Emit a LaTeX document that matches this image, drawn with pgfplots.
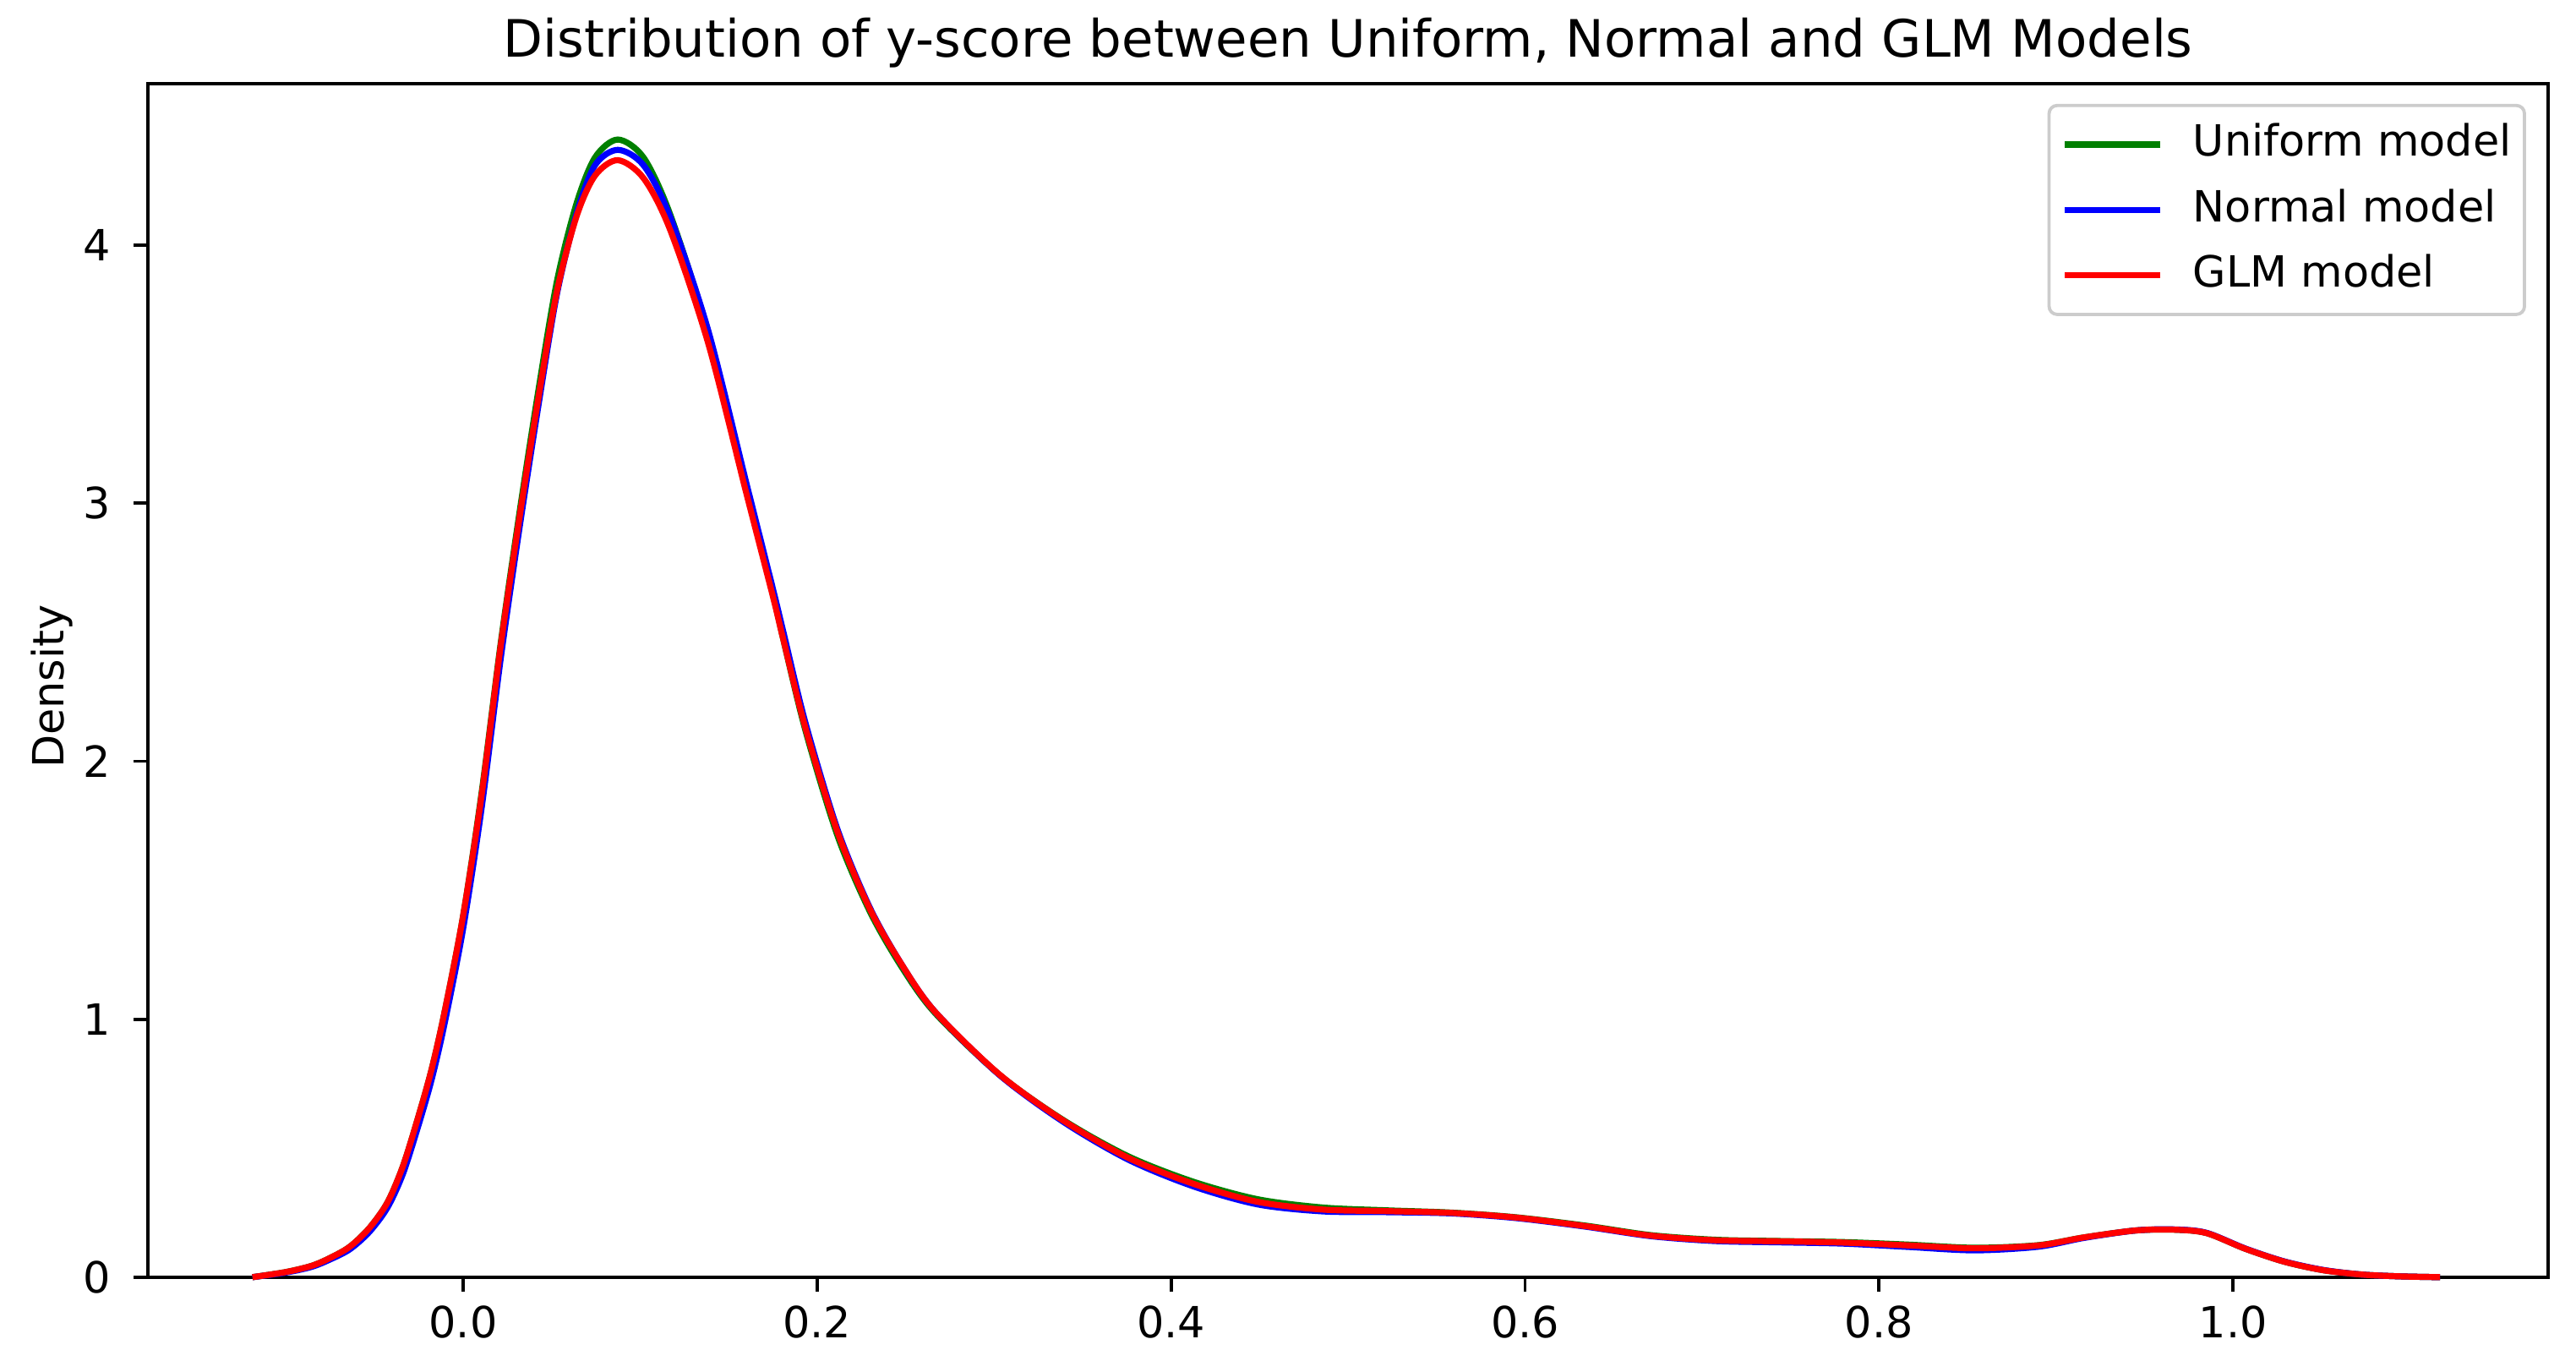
\documentclass[border=0pt]{standalone}
\usepackage{pgfplots}
\pgfplotsset{compat=1.18}
\usepackage{pgfplotstable}
\usepackage{fontspec}
\setmainfont{DejaVu Sans}

\pgfplotstableread{
x y
-0.119 0.0
-0.100 0.02
-0.0855 0.044
-0.075 0.075
-0.064 0.118
-0.053 0.19
-0.0427 0.29
-0.034 0.43
-0.0258 0.61
-0.018 0.80
-0.0107 1.02
0.0 1.40
0.0105 1.87
0.0213 2.45
0.032 2.95
0.0426 3.41
0.053 3.82
0.064 4.11
0.0745 4.27
0.0874 4.33
0.102 4.26
0.117 4.06
0.1385 3.62
0.160 3.04
0.175 2.64
0.181 2.47
0.1934 2.13
0.2116 1.725
0.230 1.425
0.248 1.21
0.2665 1.03
0.303 0.786
0.3396 0.605
0.376 0.462
0.4126 0.362
0.449 0.292
0.4857 0.262
0.522 0.256
0.559 0.249
0.595 0.231
0.634 0.198
0.671 0.161
0.7075 0.143
0.744 0.139
0.780 0.134
0.817 0.123
0.854 0.112
0.890 0.123
0.9157 0.154
0.945 0.181
0.967 0.184
0.985 0.171
1.007 0.110
1.029 0.060
1.051 0.027
1.073 0.010
1.095 0.003
1.117 0.0
}\glmdata

\pgfplotstableread{
x y
-0.119 0.0
-0.100 0.02
-0.0855 0.044
-0.075 0.075
-0.064 0.118
-0.053 0.19
-0.0427 0.29
-0.034 0.43
-0.0258 0.61
-0.018 0.80
-0.0107 1.02
0.0 1.40
0.0105 1.88
0.0213 2.46
0.032 2.97
0.0426 3.44
0.053 3.86
0.064 4.16
0.0745 4.34
0.0874 4.41
0.102 4.34
0.117 4.12
0.1385 3.66
0.160 3.06
0.175 2.65
0.181 2.47
0.1934 2.12
0.2116 1.71
0.230 1.415
0.248 1.20
0.2665 1.025
0.303 0.785
0.3396 0.607
0.376 0.468
0.4126 0.370
0.449 0.302
0.4857 0.270
0.522 0.259
0.559 0.250
0.595 0.232
0.634 0.200
0.671 0.163
0.7075 0.145
0.744 0.140
0.780 0.136
0.817 0.126
0.854 0.114
0.890 0.124
0.9157 0.154
0.945 0.181
0.967 0.184
0.985 0.171
1.007 0.110
1.029 0.060
1.051 0.027
1.073 0.010
1.095 0.003
1.117 0.0
}\unifdata

\pgfplotstableread{
x y
-0.119 0.0
-0.100 0.018
-0.0855 0.040
-0.075 0.069
-0.064 0.108
-0.053 0.175
-0.0427 0.27
-0.034 0.40
-0.0258 0.575
-0.018 0.76
-0.0107 0.975
0.0 1.35
0.0105 1.82
0.0213 2.40
0.032 2.91
0.0426 3.38
0.053 3.81
0.064 4.12
0.0745 4.31
0.0874 4.37
0.102 4.31
0.117 4.11
0.1385 3.67
0.160 3.08
0.175 2.67
0.181 2.50
0.1934 2.15
0.2116 1.735
0.230 1.43
0.248 1.21
0.2665 1.03
0.303 0.784
0.3396 0.600
0.376 0.455
0.4126 0.352
0.449 0.282
0.4857 0.255
0.522 0.252
0.559 0.247
0.595 0.229
0.634 0.196
0.671 0.159
0.7075 0.140
0.744 0.135
0.780 0.130
0.817 0.117
0.854 0.104
0.890 0.118
0.9157 0.152
0.945 0.181
0.967 0.185
0.985 0.172
1.007 0.111
1.029 0.061
1.051 0.028
1.073 0.010
1.095 0.003
1.117 0.0
}\normdata

\begin{document}
\begin{tikzpicture}
\useasboundingbox (-36.5pt,-23.3pt) rectangle (598.6pt,314.8pt);
\begin{axis}[
  at={(0,0)}, anchor=south west,
  scale only axis, width=591.7pt, height=294.2pt,
  xmin=-0.178, xmax=1.178, ymin=0, ymax=4.627,
  clip=false,
  axis line style={line width=0.8pt, black},
  tick style={line width=0.8pt, black},
  major tick length=3.5pt,
  tick align=outside,
  tick pos=left,
  xtick={0,0.2,0.4,0.6,0.8,1.0},
  ytick={0,1,2,3,4},
  xticklabel={\pgfmathprintnumber[fixed,fixed zerofill,precision=1]{\tick}},
  yticklabel={\pgfmathprintnumber[fixed,precision=0]{\tick}},
  /pgf/number format/assume math mode=true,
  ticklabel style={font=\fontsize{10.6}{12.7}\selectfont},
  xticklabel style={inner sep=0pt, anchor=north, yshift=-3.4pt},
  yticklabel style={inner sep=0pt, anchor=east, xshift=-5.6pt},
  legend cell align=left,
  legend image code/.code={\draw[#1, line width=1.5pt] (0pt,0pt) -- (23.4pt,0pt);},
  legend style={
    at={(rel axis cs:1,1)}, xshift=-5.4pt, yshift=-5pt, anchor=north east,
    draw=black!20, line width=0.8pt, rounded corners=2pt, fill=white,
    font=\fontsize{10.6}{12.7}\selectfont,
    inner xsep=3.2pt, inner ysep=4.6pt,
    row sep=6pt, column sep=0pt,
    nodes={inner sep=0pt, text height=7.9pt, text depth=2.2pt},
    /tikz/every odd column/.append style={column sep=7.4pt},
  },
]
\addplot[color={rgb,255:red,0;green,128;blue,0}, line width=1.5pt, smooth, tension=0.5] table[x=x,y=y] {\unifdata};
\addlegendentry{Uniform model}
\addplot[color={rgb,255:red,0;green,0;blue,255}, line width=1.5pt, smooth, tension=0.5] table[x=x,y=y] {\normdata};
\addlegendentry{Normal model}
\addplot[color={rgb,255:red,255;green,0;blue,0}, line width=1.5pt, smooth, tension=0.5] table[x=x,y=y] {\glmdata};
\addlegendentry{GLM model}
\node[anchor=base, font=\fontsize{12.7}{15}\selectfont] at (rel axis cs:0.5,1) [yshift=6.5pt] {Distribution of y-score between Uniform, Normal and GLM Models};
\node[xshift=-23.7pt, yshift=-1.5pt, rotate=90, font=\fontsize{10.6}{12.7}\selectfont] at (rel axis cs:0,0.5) {Density};
\end{axis}
\end{tikzpicture}
\end{document}
